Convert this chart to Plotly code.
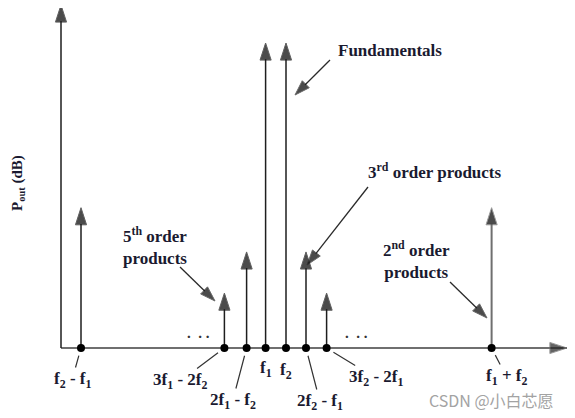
import plotly.graph_objects as go

# spectral components: schematic frequency position and output power (dB above floor)
components = ['f2-f1', '3f1-2f2', '2f1-f2', 'f1', 'f2', '2f2-f1', '3f2-2f1', 'f1+f2']
labels = ['f<sub>2</sub> - f<sub>1</sub>', '3f<sub>1</sub> - 2f<sub>2</sub>', '2f<sub>1</sub> - f<sub>2</sub>',
          'f<sub>1</sub>', 'f<sub>2</sub>', '2f<sub>2</sub> - f<sub>1</sub>', '3f<sub>2</sub> - 2f<sub>1</sub>',
          'f<sub>1</sub> + f<sub>2</sub>']
freq = [1.0, 8.17, 9.28, 10.23, 11.25, 12.25, 13.28, 21.53]
power = [46, 18, 31.5, 100, 100, 31.5, 18, 46]
order = [2, 5, 3, 1, 1, 3, 5, 2]

# page geometry: screen pixels -> data units (page body has an 8px margin)
W, H = 575, 418
PAD = 8
X0, Y0 = 61, 348
SX, SY = 20, 3.05


def X(px):
    return (px - X0) / SX


def Y(py):
    return (Y0 - py) / SY


SERIF = "Times New Roman, Liberation Serif, serif"
DARK = "#1e1e1e"
GREY = "#6f6f6f"
TXT = "#1a1a30"

fig = go.Figure()

# axes drawn as arrows
fig.add_trace(go.Scatter(
    x=[0, X(567)], y=[0, 0], mode='lines+markers',
    line=dict(color=GREY, width=2.2),
    marker=dict(symbol=['circle', 'arrow'], size=[0, 18], angle=[0, 90], color='#222'),
    hoverinfo='skip'))
fig.add_trace(go.Scatter(
    x=[0, 0], y=[0, Y(5)], mode='lines+markers',
    line=dict(color=DARK, width=1.5),
    marker=dict(symbol=['circle', 'arrow'], size=[0, 18], color='black'),
    hoverinfo='skip'))

# spectral lines
for f, p, o in zip(freq, power, order):
    c = GREY if f > 20 else DARK
    w = 2 if f > 20 else 1.5
    fig.add_trace(go.Scatter(
        x=[f, f], y=[0, p], mode='lines+markers',
        line=dict(color=c, width=w),
        marker=dict(symbol=['circle', 'arrow'], size=[0, 18], color='black'),
        hoverinfo='skip'))

# dots on the baseline
fig.add_trace(go.Scatter(
    x=freq, y=[0] * len(freq), mode='markers',
    marker=dict(symbol='circle', size=8, color='black'),
    hoverinfo='skip'))

# tick labels with leader lines (pixel offsets of label centre)
label_offsets = [(-9, 32), (-44, 33), (-14, 53), (0, 21), (0, 23), (14, 54), (49, 30), (15, 29)]
annotations = []
for f, lab, (dx, dy) in zip(freq, labels, label_offsets):
    font = dict(family=SERIF, size=17, color=TXT)
    if dx:
        annotations.append(dict(
            x=f, y=0, xref='x', yref='y', text='<b>%s</b>' % lab,
            showarrow=True, arrowhead=0, arrowwidth=1.2, arrowcolor='#333',
            ax=dx, ay=dy, standoff=8, font=font))
    else:
        annotations.append(dict(
            x=f, y=0, xref='x', yref='y', text='<b>%s</b>' % lab,
            showarrow=False, xshift=dx, yshift=-dy, font=font))

# callouts
callouts = [
    ('<b>Fundamentals</b>', (390, 50), (330, 60), (295, 95)),
    ('<b>3<sup>rd</sup> order products</b>', (434, 171), (368, 187), (307, 265)),
    ('<b>5<sup>th</sup> order<br>products</b>', (155, 246), (180, 267), (215, 301)),
    ('<b>2<sup>nd</sup> order<br>products</b>', (416, 260), (450, 282), (487, 318)),
]
for text, (tx, ty), tail, tip in callouts:
    annotations.append(dict(
        x=X(tx), y=Y(ty), xref='x', yref='y', text=text, showarrow=False,
        font=dict(family=SERIF, size=17, color=TXT)))
    fig.add_trace(go.Scatter(
        x=[X(tail[0]), X(tip[0])], y=[Y(tail[1]), Y(tip[1])], mode='lines+markers',
        line=dict(color='#2a2a2a', width=1.3),
        marker=dict(symbol='arrow', size=[0, 16], angleref='previous', color='black'),
        hoverinfo='skip'))

# ellipsis dots
for cx in (198, 356):
    annotations.append(dict(
        x=X(cx), y=Y(333), xref='x', yref='y', text='<b>.  . .</b>', showarrow=False,
        font=dict(family=SERIF, size=15, color='#333')))

# y axis title
annotations.append(dict(
    x=X(18), y=Y(183), xref='x', yref='y', text='<b>P<sub>out</sub> (dB)</b>',
    textangle=-90, showarrow=False, font=dict(family=SERIF, size=15, color=TXT)))

# watermark
annotations.append(dict(
    x=X(491), y=Y(400), xref='x', yref='y', text='CSDN @小白芯愿', showarrow=False,
    font=dict(family='Noto Sans CJK SC', size=16, color='#a3a3a3')))

fig.update_layout(
    width=W, height=H,
    margin=dict(l=0, r=0, t=0, b=0),
    paper_bgcolor='white', plot_bgcolor='white',
    showlegend=False,
    xaxis=dict(range=[X(PAD), X(PAD + W)], visible=False, fixedrange=True),
    yaxis=dict(range=[Y(PAD + H), Y(PAD)], visible=False, fixedrange=True),
    annotations=annotations,
)

fig.write_html("out.html")
